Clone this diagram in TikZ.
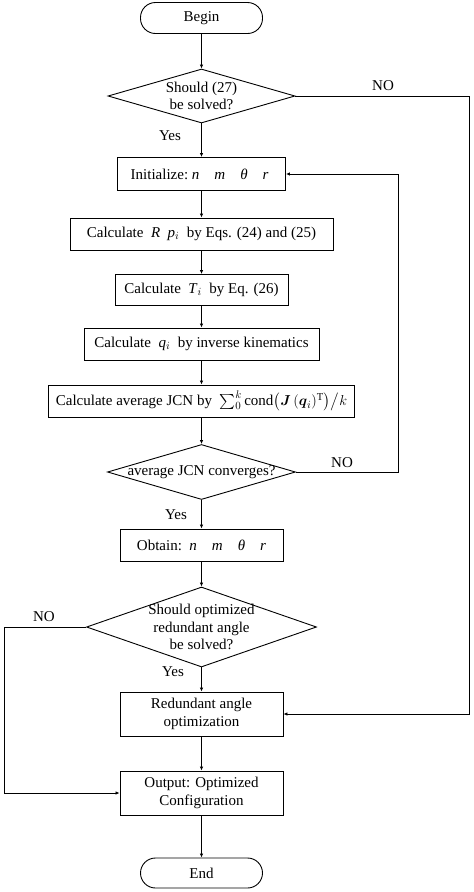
\documentclass[tikz,border=0pt]{standalone}
\usepackage{amsmath}
\usepackage{amssymb}
\usepackage{fontspec}
\setmainfont{Liberation Serif}
\usepackage{tikz}
\usetikzlibrary{shapes.geometric,arrows.meta}

\begin{document}
\begin{tikzpicture}[x=1pt,y=-1pt,
		font=\fontsize{15}{17.5}\selectfont,
		terminal/.style={draw, line width=0.9pt, rounded corners=15pt, minimum width=122pt, minimum height=31pt},
		process/.style={draw, line width=0.9pt, minimum height=32pt, inner sep=0pt},
		decision/.style={draw, line width=0.9pt, diamond, inner sep=0pt},
		flow/.style={line width=0.9pt, ->, >={Latex[length=4pt,width=3.5pt]}}
		]
		\useasboundingbox (0,0) rectangle (474,892);
		
		% draw the main column of steps
		\node[terminal] (begin) at (201.5,18) {Begin};
		\node[decision, minimum width=187pt, minimum height=54pt,
		label={[align=center]center:Should (27)\\be solved?}] (solve) at (201.5,96) {};
		\node[process, minimum width=168pt, minimum height=33pt] (init) at (201.5,174) {Initialize:\ \textit{n}\quad\textit{m}\quad\textit{θ}\quad\textit{r}\ \ };
		\node[process, minimum width=263pt] (calcR) at (201.5,234) {Calculate\ \ \textit{R}\ \ \textit{p}$_i$\ \ by Eqs. (24) and (25)\hspace{16pt}};
		\node[process, minimum width=173pt, minimum height=31pt] (calcT) at (201.5,290) {Calculate\ \ \textit{T}$_i$\ \ by Eq. (26)};
		\node[process, minimum width=235pt] (calcQ) at (201.5,344) {Calculate\ \ \textit{q}$_i$\ \ by inverse kinematics};
		\node[process, minimum width=306pt] (calcJ) at (201.5,401) {Calculate average JCN by\ \ $\textstyle\sum_0^k \text{cond}\big(\boldsymbol{J}\,(\boldsymbol{q}_i)^{\mathrm{T}}\big)\big/k$};
		\node[decision, minimum width=188pt, minimum height=55pt,
		label=center:average JCN converges?] (conv) at (201.5,472) {};
		\node[process, minimum width=163pt] (obtain) at (201.5,545) {Obtain:\ \ \textit{n}\quad\textit{m}\quad\textit{θ}\quad\textit{r}\ };
		\node[decision, minimum width=230pt, minimum height=80pt,
		label={[align=center]center:Should optimized\\redundant angle\\be solved?}] (optim) at (201.5,627) {};
		\node[process, minimum width=163pt, minimum height=44pt, align=center] (redund) at (201.5,714) {Redundant angle\\optimization};
		\node[process, minimum width=163pt, minimum height=44pt, align=center] (output) at (201.5,793) {Output: Optimized\\Configuration};
		\node[terminal, minimum height=30pt] (end) at (201.5,873) {End};
		
		% the corners of the three loops
		\coordinate (loopA) at (398,472);
		\coordinate (loopB) at (469,96);
		\coordinate (loopC) at (4,627);
		
		% draw the connecting lines
		\draw[flow] (begin) -- (solve);
		\draw[flow] (solve) -- (init);
		\draw[flow] (init) -- (calcR);
		\draw[flow] (calcR) -- (calcT);
		\draw[flow] (calcT) -- (calcQ);
		\draw[flow] (calcQ) -- (calcJ);
		\draw[flow] (calcJ) -- (conv);
		\draw[flow] (conv) -- (obtain);
		\draw[flow] (obtain) -- (optim);
		\draw[flow] (optim) -- (redund);
		\draw[flow] (redund) -- (output);
		\draw[flow] (output) -- (end);
		
		\draw[flow] (conv.east) -- (loopA) |- (init.east);
		\draw[flow] (solve.east) -- (loopB) |- (redund.east);
		\draw[flow] (optim.west) -- (loopC) |- (output.west);
		
		% the yes and no labels
		\node (no1) at (383,86) {NO};
		\node (yes1) at (170,136) {Yes};
		\node (no2) at (342,463) {NO};
		\node (yes2) at (176,515) {Yes};
		\node (no3) at (44,617) {NO};
		\node (yes3) at (173,672) {Yes};
		\end{tikzpicture}
\end{document}
